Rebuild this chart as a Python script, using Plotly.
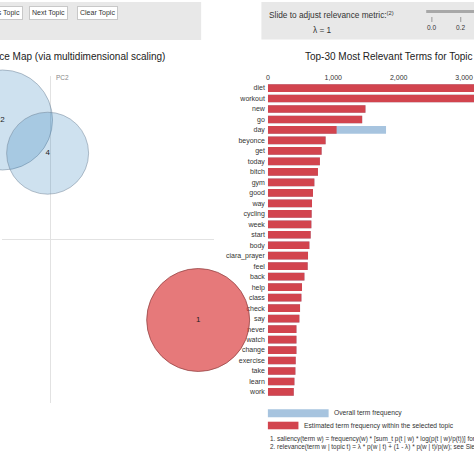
import plotly.graph_objects as go

W, H = 474, 474

# ---------------- data ----------------
terms = ["diet", "workout", "new", "go", "day", "beyonce", "get", "today", "bitch", "gym",
         "good", "way", "cycling", "week", "start", "body", "ciara_prayer", "feel", "back", "help",
         "class", "check", "say", "never", "watch", "change", "exercise", "take", "learn", "work"]
topic_freq = [3400, 3350, 1492, 1442, 1051, 883, 822, 796, 766, 711,
              690, 675, 670, 665, 655, 635, 614, 609, 559, 522,
              513, 492, 482, 437, 437, 437, 426, 421, 406, 396]
overall_freq = [3400, 3350, 1492, 1442, 1807, 883, 822, 796, 766, 711,
                690, 675, 670, 665, 655, 635, 614, 609, 559, 522,
                513, 492, 482, 437, 437, 437, 426, 421, 406, 396]
freq_ticks = [0, 1000, 2000, 3000]

topics = ["1", "2", "4"]
pc1 = [0.297, -0.096, -0.0054]
pc2 = [-0.162, 0.238, 0.1716]
topic_pct = [34.2, 32.3, 21.7]
selected = "1"

# ---------------- helpers ----------------
def px(x):
    return x / W

def py(y):
    return 1 - y / H

FONT = "Liberation Sans, Arial, sans-serif"
RED = "#d2444e"
BLUE = "#a7c4df"

fig = go.Figure()

# bar chart (xy)
fig.add_trace(go.Bar(y=terms, x=overall_freq, orientation="h", marker_color=BLUE,
                     marker_line_width=0, xaxis="x", yaxis="y", hoverinfo="skip"))
fig.add_trace(go.Bar(y=terms, x=topic_freq, orientation="h", marker_color=RED,
                     marker_line_width=0, xaxis="x", yaxis="y", hoverinfo="skip"))

# MDS circles (x2y2)
diam = [17.6 * p ** 0.5 for p in topic_pct]
for t, a, b, d in zip(topics, pc1, pc2, diam):
    if t == selected:
        fill, edge = "rgba(214,39,40,0.62)", "rgba(150,70,70,0.8)"
    else:
        fill, edge = "rgba(31,119,180,0.22)", "rgba(110,130,150,0.5)"
    fig.add_trace(go.Scatter(x=[a], y=[b], mode="markers+text", text=[t],
                             textposition="middle center",
                             textfont=dict(size=8, color="#222", family=FONT),
                             marker=dict(size=d, color=fill, line=dict(color=edge, width=1)),
                             xaxis="x2", yaxis="y2", cliponaxis=False, hoverinfo="skip"))

ox, oy, scale = 48.5, 239.0, 500.0
left_r, top_p, bot_p = 212.7, 76.0, 403.0

fig.update_layout(
    width=W, height=H, margin=dict(l=0, r=0, t=0, b=0),
    paper_bgcolor="white", plot_bgcolor="rgba(0,0,0,0)",
    showlegend=False, barmode="overlay", bargap=0.265,
    font=dict(family=FONT, color="#333"),
    xaxis=dict(domain=[px(267), 1], range=[0, (474 - 267) / 65.67 * 1000], side="top",
               tickvals=freq_ticks, tickformat=",", showgrid=False, zeroline=False,
               showline=False, ticks="", tickfont=dict(size=7, color="#333"), anchor="y"),
    yaxis=dict(domain=[py(397.2), py(82.8)], range=[29.5, -0.5], type="category",
               showgrid=False, zeroline=False, showline=False, ticks="",
               ticklabelstandoff=2,
               tickfont=dict(size=7, color="#333"), anchor="x"),
    xaxis2=dict(domain=[0, px(left_r)], range=[-ox / scale, (left_r - ox) / scale],
                showgrid=False, showticklabels=False, ticks="", showline=False,
                zeroline=True, zerolinecolor="#e2e2e2", zerolinewidth=1, anchor="y2"),
    yaxis2=dict(domain=[py(bot_p), py(top_p)], range=[-(bot_p - oy) / scale, (oy - top_p) / scale],
                showgrid=False, showticklabels=False, ticks="", showline=False,
                zeroline=True, zerolinecolor="#e2e2e2", zerolinewidth=1, anchor="x2"),
)

shapes = [
    dict(type="rect", xref="paper", yref="paper", x0=px(-2), x1=px(200), y0=py(40), y1=py(2),
         fillcolor="#e8e8e8", line_width=0, layer="below"),
    dict(type="rect", xref="paper", yref="paper", x0=px(260.5), x1=px(476), y0=py(39.5), y1=py(2),
         fillcolor="#e8e8e8", line_width=0, layer="below"),
    # slider
    dict(type="line", xref="paper", yref="paper", x0=px(426), x1=px(476), y0=py(11.5), y1=py(11.5),
         line=dict(color="#a8a8a8", width=3)),
    dict(type="line", xref="paper", yref="paper", x0=px(431.7), x1=px(431.7), y0=py(17), y1=py(22),
         line=dict(color="#999", width=1)),
    dict(type="line", xref="paper", yref="paper", x0=px(460.7), x1=px(460.7), y0=py(17), y1=py(22),
         line=dict(color="#999", width=1)),
    # legend
    dict(type="rect", xref="paper", yref="paper", x0=px(267), x1=px(328), y0=py(417.3), y1=py(409.3),
         fillcolor=BLUE, line_width=0),
    dict(type="rect", xref="paper", yref="paper", x0=px(267), x1=px(297.7), y0=py(429.3), y1=py(421.7),
         fillcolor=RED, line_width=0),
]

def ann(text, x, y, size, xanchor="left", color="#333", **kw):
    d = dict(text=text, xref="paper", yref="paper", x=px(x), y=py(y), xanchor=xanchor,
             yanchor="middle", showarrow=False, font=dict(size=size, color=color, family=FONT))
    d.update(kw)
    return d

btn = dict(bgcolor="white", bordercolor="#c8c8c8", borderwidth=1, borderpad=2)
annotations = [
    ann("Previous Topic", 21, 13, 7, xanchor="right", **btn),
    ann("Next Topic", 47, 13, 7, xanchor="center", **btn),
    ann("Clear Topic", 95.5, 13, 7, xanchor="center", **btn),
    ann("Slide to adjust relevance metric:<sup>(2)</sup>", 266, 15, 8.3),
    ann("λ = 1", 321.7, 30, 8.3, xanchor="center"),
    ann("0.0", 431.7, 28, 6.5, xanchor="center"),
    ann("0.2", 460.7, 28, 6.5, xanchor="center"),
    ann("Intertopic Distance Map (via multidimensional scaling)", 166, 56, 10, xanchor="right", color="#222"),
    ann("Top-30 Most Relevant Terms for Topic 1 (34.2% of tokens)", 302, 56, 10, color="#222"),
    ann("PC2", 52, 77.5, 6.5, color="#888"),
    ann("Overall term frequency", 331.5, 413.3, 6.7),
    ann("Estimated term frequency within the selected topic", 301, 425.5, 6.7),
    ann("1. saliency(term w) = frequency(w) * [sum_t p(t | w) * log(p(t | w)/p(t))] for topics t; see Chuang et. al (2012)",
        267, 439, 6.4),
    ann("2. relevance(term w | topic t) = λ * p(w | t) + (1 - λ) * p(w | t)/p(w); see Sievert & Shirley (2014)",
        267, 446.7, 6.4),
]

fig.update_layout(shapes=shapes, annotations=annotations)
fig.write_html("out.html")
